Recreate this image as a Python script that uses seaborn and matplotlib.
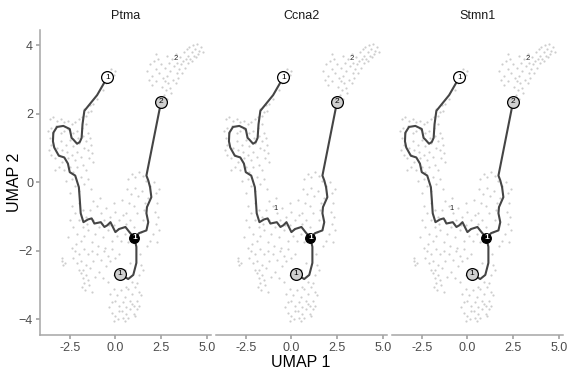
import numpy as np
import pandas as pd
import matplotlib
matplotlib.use("Agg")
import matplotlib.pyplot as plt
import seaborn as sns

genes = ["Ptma", "Ccna2", "Stmn1"]

# cell embedding (UMAP 1, UMAP 2)
cells_x = [
    1.75,1.9,2.0,2.1,2.2,2.25,2.35,2.4,2.5,2.55,2.6,2.65,2.7,2.75,2.8,2.85,2.9,2.95,3.0,3.05,2.45,2.6,3.1,3.15,3.2,3.3,3.35,3.4,3.5,3.55,3.6,3.7,3.75,3.8,3.85,3.9,3.95,4.0,4.05,4.1,4.2,4.25,4.3,4.35,4.45,4.5,4.6,4.7,4.8,4.2,3.45,3.0,2.8,2.2,2.0,1.85,3.65,4.4,2.7,3.3,
    -0.25,-0.1,-0.3,-0.5,0.0,-0.7,-1.0,-1.2,-1.4,-1.5,-1.6,-1.35,-1.85,-1.7,
    -3.6,-3.4,-3.2,-3.0,-2.8,-2.6,-2.4,-2.2,-2.0,-1.85,-1.6,-1.5,-1.4,-1.35,-1.5,-1.7,-1.6,-2.1,-2.3,-2.6,-2.8,-3.0,-3.55,-3.7,-3.6,-3.5,-3.65,-3.5,-3.3,-3.2,-3.0,-2.9,-2.7,-2.5,-2.3,-2.1,-2.0,-1.9,-2.2,-2.4,-2.6,-2.9,-3.1,-3.3,-2.8,-2.5,-2.3,-2.1,-1.8,-1.6,-1.9,-2.4,-2.7,-2.2,-1.7,-1.5,-2.0,-1.35,-2.5,-1.2,-1.3,-3.4,-3.25,-2.05,-1.75,-2.65,-3.1,-1.45,
    -2.4,-2.2,-2.0,-2.3,-2.1,-1.8,-1.6,-1.5,-1.4,-1.2,-1.1,-1.0,-0.9,-0.8,-0.7,-0.6,-0.5,-0.4,-0.3,-0.2,-0.1,0.0,0.1,0.2,0.3,0.4,0.5,0.6,0.7,-1.9,-1.7,-1.3,-0.95,-0.55,-2.5,-2.6,-1.25,-0.85,-0.1,0.35,-1.55,-0.35,0.15,-2.0,-1.75,
    0.7,0.9,1.1,1.3,1.5,1.7,1.9,2.1,0.65,0.85,1.05,1.25,1.45,2.2,2.3,2.15,2.35,2.2,2.4,2.05,1.9,1.75,2.3,0.75,1.0,0.6,0.8,1.2,1.5,1.6,1.4,1.55,1.0,2.4,1.8,
    -2.95,-2.85,-2.75,-2.9,-2.4,-2.2,-2.0,-2.3,-2.1,-1.9,-1.7,-1.5,-1.3,-1.6,-1.4,-1.2,-1.0,-0.8,-0.6,-0.4,-1.9,-1.8,-1.7,-1.6,-1.5,-1.85,-1.65,-1.45,-1.3,-1.75,-2.0,-0.9,-0.7,-0.5,-0.3,-1.1,-2.15,-0.2,0.0,0.2,
    -0.3,-0.1,0.1,0.3,0.5,0.7,0.9,1.1,1.3,-0.2,0.0,0.2,0.4,0.6,0.8,1.0,1.2,-0.2,0.0,0.2,0.4,0.6,0.8,1.0,1.2,-0.1,0.15,0.5,0.7,1.1,0.9,0.35,1.4,1.3,-0.35,0.6,1.2,1.3,1.4,1.35,1.5,0.9,-0.4,-0.1,0.55,0.8,
]
cells_y = [
    3.25,3.45,3.1,3.55,3.3,2.95,3.6,3.2,3.45,2.8,3.05,2.55,3.35,2.7,3.7,3.1,2.9,3.5,3.25,2.6,2.45,2.25,3.6,3.0,3.4,3.75,3.2,3.5,3.3,3.65,3.45,3.55,3.8,3.35,3.6,3.9,3.5,3.7,3.95,3.6,3.8,4.0,3.7,3.9,4.05,3.75,3.85,3.95,3.8,3.55,3.05,2.75,2.45,3.75,2.85,3.0,3.2,3.65,2.95,2.9,
    3.3,3.15,3.0,2.9,3.25,2.7,2.45,2.3,2.25,2.05,1.95,2.1,1.9,2.15,
    1.85,1.9,1.8,1.85,1.75,1.8,1.7,1.75,1.85,1.6,1.7,1.45,1.3,1.1,0.95,1.0,1.2,1.5,1.45,1.55,1.5,1.45,1.6,1.5,1.3,1.1,0.95,0.8,0.7,1.0,1.2,0.95,1.1,1.25,1.05,0.9,1.15,0.75,0.65,0.8,0.7,0.6,0.45,0.35,0.35,0.45,0.3,0.45,0.5,0.35,0.15,0.1,0.05,-0.1,-0.05,0.1,-0.25,-0.2,-0.3,0.6,0.85,1.45,1.65,1.3,1.35,0.9,0.8,0.7,
    -0.7,-0.9,-1.1,-1.3,-1.5,-1.3,-1.0,-1.4,-0.8,-1.1,-1.5,-0.7,-1.3,-0.9,-1.6,-1.1,-0.75,-1.4,-1.0,-1.7,-1.25,-0.85,-1.55,-1.1,-1.7,-0.95,-1.5,-1.2,-1.75,-1.7,-1.55,-1.75,-1.85,-1.9,-1.1,-1.6,-0.55,-0.45,-0.6,-0.5,-1.2,-1.25,-1.35,-0.6,-0.8,
    0.1,0.25,0.15,0.3,0.2,0.05,-0.1,0.0,-0.2,-0.35,-0.15,-0.4,-0.25,-0.3,-0.6,-0.85,-1.0,-1.2,-1.4,-1.5,-1.7,-1.85,-1.75,-0.6,-0.7,-0.9,-1.1,-0.9,-1.1,-0.6,-1.45,-0.8,-1.3,-0.2,-0.45,
    -2.3,-2.4,-2.35,-2.2,-1.9,-2.0,-2.1,-2.2,-2.35,-2.3,-1.95,-2.1,-2.0,-2.4,-2.5,-2.3,-2.1,-2.25,-2.0,-2.15,-2.65,-2.8,-2.95,-2.7,-2.85,-3.05,-3.15,-3.0,-3.2,-2.55,-2.55,-2.6,-2.8,-2.45,-2.3,-2.75,-1.8,-1.95,-2.2,-2.1,
    -3.25,-3.1,-3.3,-3.15,-3.35,-3.1,-3.25,-3.05,-3.2,-3.5,-3.45,-3.6,-3.5,-3.65,-3.45,-3.6,-3.45,-3.8,-3.9,-3.75,-3.95,-3.85,-3.7,-3.85,-3.7,-4.05,-4.0,-4.05,-3.95,-3.9,-3.55,-3.75,-3.3,-3.6,-3.65,-3.05,-2.95,-2.7,-2.4,-2.1,-2.55,-2.9,-2.9,-2.7,-2.55,-2.35,
]

# principal graph branches
seg1_x = [-0.44,-1.0,-1.7,-1.8,-1.85,-1.95,-2.1,-2.3,-2.4,-2.5,-2.85,-3.2,-3.4,-3.42,-3.35,-3.1,-2.8,-2.6,-2.5,-2.2,-2.0,-1.95,-1.9,-1.75,-1.5,-1.3,-1.15,-0.8,-0.6,-0.44,-0.27,0.0,0.2,0.55,0.77,1.04]
seg1_y = [3.07,2.55,2.09,1.7,1.3,1.18,1.13,1.25,1.3,1.56,1.65,1.62,1.45,1.2,1.02,0.78,0.73,0.55,0.3,0.2,-0.14,-0.5,-0.9,-1.16,-1.08,-1.05,-1.2,-1.16,-1.3,-1.25,-1.16,-1.45,-1.36,-1.3,-1.45,-1.62]
seg2_x = [1.04,1.15,1.15,0.98,0.7,0.4]
seg2_y = [-1.62,-1.88,-2.35,-2.7,-2.82,-2.72]
seg3_x = [1.04,1.3,1.7,1.8,1.7,1.73,1.97,1.9,1.8,1.7,2.5]
seg3_y = [-1.62,-1.48,-1.4,-1.16,-0.9,-0.72,-0.43,-0.14,0.06,0.2,2.35]

# nodes: x, y, label, fill
node_x = [-0.44, 2.5, 1.04, 0.25]
node_y = [3.07, 2.35, -1.62, -2.67]
node_lab = ["1", "2", "1", "1"]
node_fill = ["white", "#cfcfcf", "black", "#cfcfcf"]

sns.set_theme(style="white")
plt.rcParams["font.family"] = ["Liberation Sans", "DejaVu Sans"]

cells = pd.DataFrame({"x": cells_x, "y": cells_y})
segs = pd.concat([
    pd.DataFrame({"x": seg1_x, "y": seg1_y, "seg": "a"}),
    pd.DataFrame({"x": seg2_x, "y": seg2_y, "seg": "b"}),
    pd.DataFrame({"x": seg3_x, "y": seg3_y, "seg": "c"}),
])

fig, axes = plt.subplots(1, 3, figsize=(5.68, 3.75), dpi=100, sharey=True)
fig.subplots_adjust(left=0.0704, right=0.991, bottom=0.107, top=0.92, wspace=0.03)

axcol = "#a6a6a6"
for i, (ax, g) in enumerate(zip(axes, genes)):
    sns.scatterplot(data=cells, x="x", y="y", ax=ax, s=2.5, color="#cdcdcd",
                    linewidth=0, legend=False, zorder=1)
    for s in ["a", "b", "c"]:
        sns.lineplot(data=segs[segs.seg == s], x="x", y="y", sort=False,
                     estimator=None, ax=ax, color="#454545", linewidth=1.5, zorder=2)
    for nx, ny, nl, nf in zip(node_x, node_y, node_lab, node_fill):
        big = nf != "black"
        ax.scatter([nx], [ny], s=72 if big else 48, facecolor=nf,
                   edgecolor="black", linewidth=0.9, zorder=3)
        ax.text(nx, ny, nl, ha="center", va="center", fontsize=6,
                color="white" if nf == "black" else "black", zorder=4,
                fontweight="bold" if nf == "black" else "normal")
    ax.text(3.33, 3.62, "2", ha="center", va="center", fontsize=5.5, color="#222222")
    if i > 0:
        ax.text(-0.85, -0.75, "1", ha="center", va="center", fontsize=5.5, color="#222222")
    ax.set_xlim(-4.13, 5.23)
    ax.set_ylim(-4.45, 4.45)
    ax.set_xticks([-2.5, 0.0, 2.5, 5.0])
    ax.set_xticklabels(["-2.5", "0.0", "2.5", "5.0"])
    ax.set_title(g, fontsize=9, color="#1a1a1a", pad=8)
    ax.set_xlabel("")
    ax.set_ylabel("")
    ax.grid(False)
    for sp in ["top", "right"]:
        ax.spines[sp].set_visible(False)
    ax.spines["bottom"].set_color(axcol)
    ax.spines["bottom"].set_linewidth(1.1)
    if i == 0:
        ax.spines["left"].set_color(axcol)
        ax.spines["left"].set_linewidth(1.1)
        ax.set_yticks([-4, -2, 0, 2, 4])
        ax.tick_params(axis="y", length=3, color=axcol, labelsize=9, labelcolor="#4d4d4d", left=True, pad=2)
    else:
        ax.spines["left"].set_visible(False)
        ax.tick_params(axis="y", left=False, labelleft=False)
    ax.tick_params(axis="x", length=3, color=axcol, labelsize=9, labelcolor="#4d4d4d", bottom=True, pad=2)

fig.text(0.529, 0.033, "UMAP 1", ha="center", va="center", fontsize=11.5, color="black")
fig.text(0.012, 0.515, "UMAP 2", ha="left", va="center", rotation=90, fontsize=11.5, color="black")

fig.savefig("out.png", dpi=100)
